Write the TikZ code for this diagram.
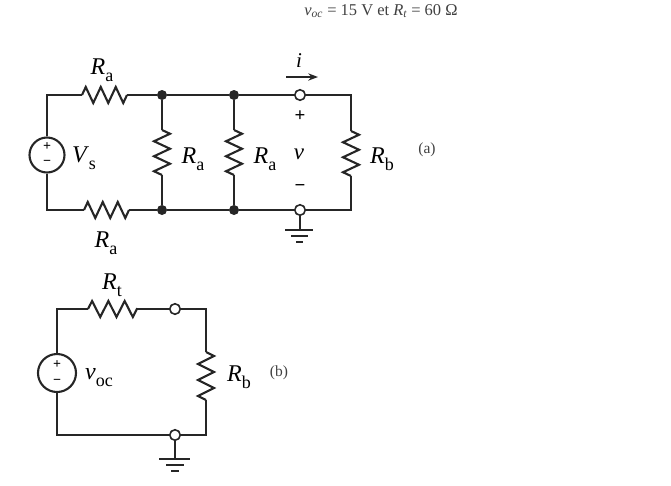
\documentclass[tikz,border=0pt]{standalone}
\usepackage{fontspec}
\setmainfont{Liberation Serif}
\usetikzlibrary{arrows.meta, positioning, decorations.pathmorphing}

\newcommand{\sublabel}[2]{\textit{#1}\raisebox{-7pt}{\fontsize{18}{18}\selectfont #2}}

\tikzset{
  wire/.style={line width=2.1pt, draw=black!85},
  resistor/.style={wire, decorate, decoration={zigzag, segment length=15pt, amplitude=8pt}},
  source/.style={circle, draw=black!85, line width=2.1pt, inner sep=0pt, minimum size=#1},
  dotnode/.style={circle, fill=black!85, inner sep=0pt, minimum size=10pt},
  opennode/.style={circle, draw=black!85, fill=white, line width=1.6pt, inner sep=0pt, minimum size=10.5pt},
  partlabel/.style={font=\fontsize{24}{24}\selectfont, inner sep=0pt},
  signlabel/.style={font=\fontsize{19}{19}\selectfont\bfseries, inner sep=0pt},
  srcsign/.style={font=\fontsize{14}{14}\selectfont\bfseries, inner sep=0pt},
  caption/.style={font=\fontsize{15.5}{15.5}\selectfont, text=black!75, inner sep=0pt},
  groundbar/.style={line width=2pt, draw=black!85}
}

\begin{document}
\begin{tikzpicture}[x=1pt, y=-1pt, >=Stealth]
  \useasboundingbox (0,0) rectangle (671,485);
  \node[font=\fontsize{16.5}{16.5}\selectfont, text=black!75, inner sep=0pt] (title) at (381,11)
    {\textit{v\textsubscript{oc}} = 15 V et \textit{R\textsubscript{t}} = 60 Ω};

  % circuit (a)
  \node[source=35pt] (vs) at (47,155) {};
  \node[srcsign] (vsplus) at (47,147) {+};
  \node[srcsign] (vsminus) at (47,163) {−};
  \node[dotnode] (topa) at (162,95) {};
  \node[dotnode] (topb) at (234,95) {};
  \node[opennode] (topc) at (300,95) {};
  \node[dotnode] (bota) at (162,210) {};
  \node[dotnode] (botb) at (234,210) {};
  \node[opennode] (botc) at (300,210) {};
  \coordinate (ratopl) at (82,95);
  \coordinate (ratopr) at (127,95);
  \coordinate (rabotl) at (84,210);
  \coordinate (rabotr) at (129,210);
  \coordinate (rbcorner) at (351,95);
  \coordinate (rbcornerb) at (351,210);
  \coordinate (rbup) at (351,131);
  \coordinate (rbdown) at (351,176);
  \coordinate (groundc) at (300,230);

  \draw[wire] (vs.north) |- (ratopl);
  \draw[resistor] (ratopl) -- (ratopr);
  \draw[wire] (ratopr) -- (topa);
  \draw[wire] (topa) -- (topb);
  \draw[wire] (topb) -- (topc);
  \draw[wire] (topc) -- (rbcorner) -- (rbup);
  \draw[resistor] (rbup) -- (rbdown);
  \draw[wire] (rbdown) -- (rbcornerb) -- (botc);
  \draw[wire] (vs.south) |- (rabotl);
  \draw[resistor] (rabotl) -- (rabotr);
  \draw[wire] (rabotr) -- (bota);
  \draw[wire] (bota) -- (botb);
  \draw[wire] (botb) -- (botc);
  \coordinate (raaup) at (162,130);
  \coordinate (raadown) at (162,175);
  \coordinate (rabup) at (234,130);
  \coordinate (rabdown) at (234,175);
  \draw[wire] (topa) -- (raaup);
  \draw[resistor] (raaup) -- (raadown);
  \draw[wire] (raadown) -- (bota);
  \draw[wire] (topb) -- (rabup);
  \draw[resistor] (rabup) -- (rabdown);
  \draw[wire] (rabdown) -- (botb);
  \draw[wire] (botc) -- (groundc);
  \draw[groundbar] (285,230) -- (313,230);
  \draw[groundbar] (291,236) -- (308,236);
  \draw[groundbar] (296,242) -- (303,242);

  \coordinate (arrowl) at (286,77);
  \coordinate (arrowr) at (318,77);
  \draw[->, line width=1.5pt, draw=black!85] (arrowl) -- (arrowr);
  \node[partlabel, font=\fontsize{21}{21}\selectfont\itshape] (ilabel) at (299,61) {i};
  \node[signlabel] (vplus) at (300,116) {+};
  \node[partlabel, font=\fontsize{23}{23}\selectfont\itshape] (vlabel) at (299,154) {v};
  \node[signlabel] (vminus) at (300,188) {−};
  \node[partlabel] (ratop) at (102,70) {\sublabel{R}{a}};
  \node[partlabel] (rabot) at (106,243) {\sublabel{R}{a}};
  \node[partlabel] (vslabel) at (84,158) {\sublabel{V}{s}};
  \node[partlabel] (ralabela) at (193,159) {\sublabel{R}{a}};
  \node[partlabel] (ralabelb) at (265,159) {\sublabel{R}{a}};
  \node[partlabel] (rblabel) at (382,159) {\sublabel{R}{b}};
  \node[caption] (capa) at (427,150) {(a)};

  % circuit (b)
  \node[source=38pt] (voc) at (57,373) {};
  \node[srcsign] (vocplus) at (57,365) {+};
  \node[srcsign] (vocminus) at (57,382) {−};
  \node[opennode] (outtop) at (175,309) {};
  \node[opennode] (outbot) at (175,435) {};
  \coordinate (rtl) at (88,309);
  \coordinate (rtr) at (137,309);
  \coordinate (cornertop) at (206,309);
  \coordinate (cornerbot) at (206,435);
  \coordinate (rbbup) at (206,352);
  \coordinate (rbbdown) at (206,400);
  \coordinate (groundout) at (175,459);

  \draw[wire] (voc.north) |- (rtl);
  \draw[resistor, decoration={segment length=16.3pt}] (rtl) -- (rtr);
  \draw[wire] (rtr) -- (outtop);
  \draw[wire] (outtop) -- (cornertop) -- (rbbup);
  \draw[resistor, decoration={segment length=16pt}] (rbbup) -- (rbbdown);
  \draw[wire] (rbbdown) -- (cornerbot) -- (outbot);
  \draw[wire] (voc.south) |- (outbot);
  \draw[wire] (outbot) -- (groundout);
  \draw[groundbar] (159,459) -- (190,459);
  \draw[groundbar] (166,465) -- (184,465);
  \draw[groundbar] (171,471) -- (179,471);

  \node[partlabel] (rtlabel) at (112,285) {\sublabel{R}{t}};
  \node[partlabel] (voclabel) at (99,378) {\sublabel{v}{oc}};
  \node[partlabel] (rblabelb) at (239,377) {\sublabel{R}{b}};
  \node[caption] (capb) at (279,373) {(b)};
\end{tikzpicture}
\end{document}
